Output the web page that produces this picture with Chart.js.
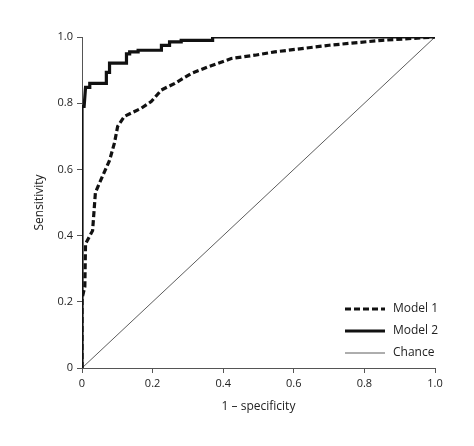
<!DOCTYPE html>
<html>
<head>
<meta charset="utf-8">
<script src="https://cdn.jsdelivr.net/npm/chart.js@4"></script>
<style>
  html, body { margin: 0; padding: 0; background: #fff; }
  #wrap { width: 474px; height: 446px; }
</style>
</head>
<body>
<div id="wrap"><canvas id="roc"></canvas></div>
<script>
// ROC curve points: [1 - specificity, sensitivity]
const model1 = [
  [0, 0], [0, 0.21], [0.008, 0.245], [0.01, 0.375], [0.03, 0.415], [0.038, 0.53],
  [0.05, 0.56], [0.078, 0.627], [0.092, 0.68], [0.101, 0.73], [0.12, 0.76],
  [0.168, 0.785], [0.196, 0.805], [0.225, 0.84], [0.263, 0.86], [0.31, 0.89],
  [0.357, 0.91], [0.423, 0.935], [0.49, 0.945], [0.546, 0.955], [0.7, 0.975],
  [0.85, 0.99], [1, 1]
];
const model2 = [
  [0, 0], [0, 0.79], [0.006, 0.79], [0.01, 0.848], [0.022, 0.848], [0.022, 0.86],
  [0.069, 0.86], [0.069, 0.893], [0.078, 0.893], [0.078, 0.921], [0.126, 0.921],
  [0.126, 0.949], [0.135, 0.949], [0.135, 0.955], [0.159, 0.955], [0.159, 0.96],
  [0.225, 0.96], [0.225, 0.975], [0.248, 0.975], [0.248, 0.985], [0.281, 0.985],
  [0.281, 0.99], [0.37, 0.99], [0.37, 1], [1, 1]
];
const chance = [[0, 0], [1, 1]];
const seriesNames = ['Model 1', 'Model 2', 'Chance'];
const xTicks = [0, 0.2, 0.4, 0.6, 0.8, 1.0];
const yTicks = [0, 0.2, 0.4, 0.6, 0.8, 1.0];

const toXY = arr => arr.map(p => ({ x: p[0], y: p[1] }));
const fmt = v => v === 0 ? '0' : v.toFixed(1);
const FONT = "'Open Sans', sans-serif";
const INK = '#222';

// small hand-drawn legend in the lower right of the plot
const legendPlugin = {
  id: 'rocLegend',
  afterDraw(chart) {
    const ctx = chart.ctx;
    const a = chart.chartArea;
    ctx.save();
    ctx.font = '12px ' + FONT;
    ctx.fillStyle = INK;
    ctx.textBaseline = 'middle';
    chart.data.datasets.forEach((ds, i) => {
      const y = a.bottom - 59 + i * 22;
      const x0 = a.right - 90;
      ctx.beginPath();
      ctx.strokeStyle = ds.borderColor;
      ctx.lineWidth = ds.borderWidth;
      ctx.setLineDash(ds.borderDash || []);
      ctx.moveTo(x0, y);
      ctx.lineTo(x0 + 40, y);
      ctx.stroke();
      ctx.setLineDash([]);
      ctx.fillText(ds.label, x0 + 48, y);
    });
    ctx.restore();
  }
};

new Chart(document.getElementById('roc'), {
  type: 'line',
  data: {
    datasets: [
      { label: seriesNames[0], data: toXY(model1), borderColor: '#111', borderWidth: 3.2, borderDash: [6, 3], tension: 0 },
      { label: seriesNames[1], data: toXY(model2), borderColor: '#111', borderWidth: 3.2, tension: 0 },
      { label: seriesNames[2], data: toXY(chance), borderColor: '#333', borderWidth: 0.8, tension: 0 }
    ]
  },
  options: {
    responsive: true,
    maintainAspectRatio: false,
    animation: false,
    elements: { point: { radius: 0 } },
    layout: { padding: { top: 37, right: 39, left: 28, bottom: 28 } },
    plugins: { legend: { display: false }, tooltip: { enabled: false } },
    scales: {
      x: {
        type: 'linear', min: 0, max: 1,
        afterBuildTicks: s => { s.ticks = xTicks.map(v => ({ value: v })); },
        afterFit: s => { s.height = 50; },
        grid: { drawOnChartArea: false, tickLength: 5, color: '#555' },
        border: { color: '#555', width: 1 },
        ticks: { callback: fmt, color: INK, font: { family: FONT, size: 11 }, maxRotation: 0, padding: 4 },
        title: { display: true, text: '1 – specificity', color: INK, font: { family: FONT, size: 12 }, padding: { top: 2 } }
      },
      y: {
        type: 'linear', min: 0, max: 1,
        afterBuildTicks: s => { s.ticks = yTicks.map(v => ({ value: v })); },
        afterFit: s => { s.width = 54; },
        grid: { drawOnChartArea: false, tickLength: 5, color: '#555' },
        border: { color: '#555', width: 1 },
        ticks: { callback: fmt, color: INK, font: { family: FONT, size: 11 }, padding: 4 },
        title: { display: true, text: 'Sensitivity', color: INK, font: { family: FONT, size: 12 }, padding: { bottom: 2 } }
      }
    }
  },
  plugins: [legendPlugin]
});
</script>
</body>
</html>
